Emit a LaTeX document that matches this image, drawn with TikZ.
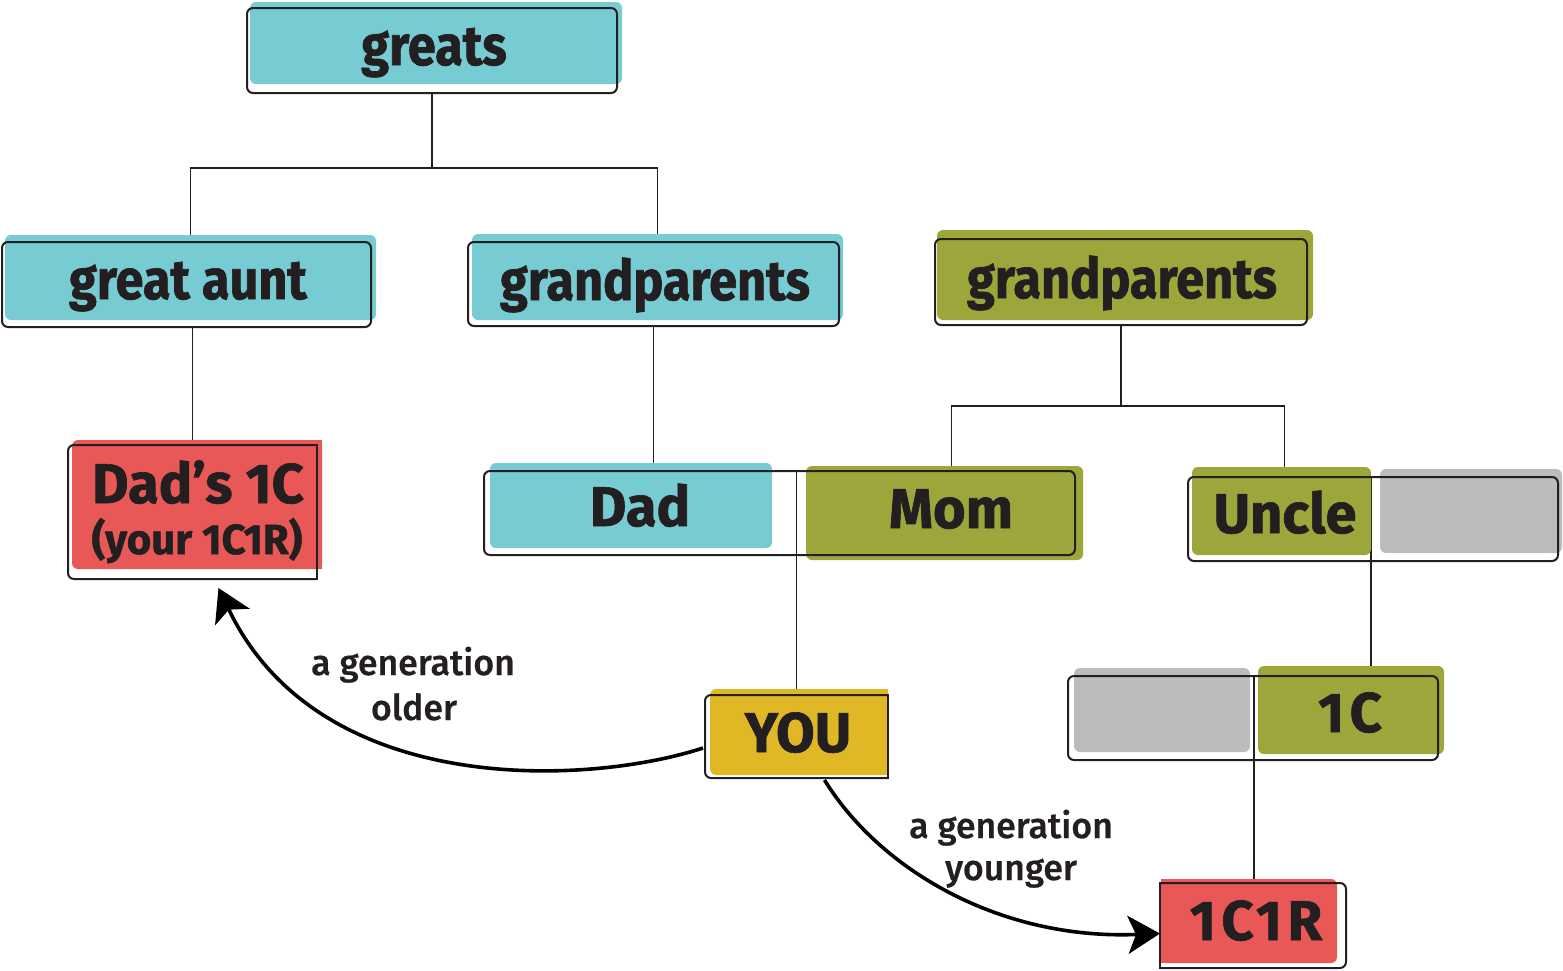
\documentclass[tikz,border=0pt]{standalone}
\usepackage{fontspec}
\setmainfont{Fira Sans}
\newfontfamily\lowfont{Fira Sans}[FakeStretch=0.9, FakeBold=1.2]
\newfontfamily\capfont{Fira Sans}[FakeStretch=1.0, FakeBold=1.2]
\newfontfamily\digfont{Fira Sans}[FakeStretch=1.0, FakeBold=1.2, LetterSpace=10]
\newfontfamily\labfont{Fira Sans}[UprightFont={* Medium}, FakeBold=0.6]
\usetikzlibrary{fit,calc,arrows.meta}
\pgfdeclarelayer{bg}
\pgfsetlayers{bg,main}
\definecolor{cblue}{HTML}{77CBD3}
\definecolor{cgreen}{HTML}{9CA63B}
\definecolor{cred}{HTML}{E85857}
\definecolor{cyel}{HTML}{E0B826}
\definecolor{cgrey}{HTML}{BBBCBE}
\definecolor{ink}{HTML}{231F20}
\tikzset{
  fb/.style={inner sep=0pt, outer sep=0pt, rounded corners=3pt, fill=#1, draw=none},
  ob/.style={inner sep=0pt, outer sep=0pt, rounded corners=3pt, draw=ink, line width=1pt},
  nm/.style={inner sep=0pt, outer sep=0pt, draw=none},
  oline/.style={draw=ink, line width=1pt},
  bt/.style={font=\lowfont\bfseries\fontsize{28}{30}\selectfont, text=ink, anchor=base, inner sep=0pt},
  btc/.style={font=\capfont\bfseries\fontsize{28}{30}\selectfont, text=ink, anchor=base, inner sep=0pt},
  btd/.style={font=\digfont\bfseries\fontsize{28}{30}\selectfont, text=ink, anchor=base, inner sep=0pt},
  bts/.style={font=\capfont\bfseries\fontsize{21}{24}\selectfont, text=ink, anchor=base, inner sep=0pt},
  lb/.style={font=\labfont\fontsize{17.8}{20}\selectfont, text=ink, anchor=base, inner sep=0pt},
  conn/.style={draw=ink, line width=0.9pt},
  arr/.style={draw=black, line width=1.8pt, -{Stealth[length=16pt,width=19pt,inset=4pt]}},
}
\begin{document}
\begin{tikzpicture}[x=0.5pt,y=-0.5pt]
\useasboundingbox (0,0) rectangle (1563,970);

% greats
\node[fb=cblue, fit={(250,2)(622,84)}] (gF) {};
\node[ob, fit={(247,8)(617,93)}] (gO) {};
\node[bt] (gT) at (434,65) {greats};

% great aunt
\node[fb=cblue, fit={(5,235)(376,320)}] (gaF) {};
\node[ob, fit={(2,242)(371,327)}] (gaO) {};
\node[bt] (gaT) at (188,299) {great aunt};

% grandparents (blue)
\node[fb=cblue, fit={(472,234)(843,320)}] (gpbF) {};
\node[ob, fit={(468,242)(839,326)}] (gpbO) {};
\node[bt] (gpbT) at (655,300) {grandparents};

% grandparents (green)
\node[fb=cgreen, fit={(937,230)(1313,320)}] (gpgF) {};
\node[ob, fit={(935,239)(1307,325)}] (gpgO) {};
\node[bt] (gpgT) at (1122,298) {grandparents};

% Dad's 1C
\node[nm, fit={(72,440)(322,569)}] (d1F) {};
\node[nm, fit={(68,445)(317,579)}] (d1O) {};
\fill[cred, rounded corners=3pt] (d1F.north west) rectangle (d1F.south east);
\fill[cred] (d1F.north) rectangle (d1F.south east);
\draw[oline] (d1O.north) -- (d1O.north east) -- (d1O.south east) -- (d1O.south);
\draw[oline, rounded corners=3pt] (d1O.south east) -| (d1O.north west) -- (d1O.north east);
\node[btc] (d1T) at (198,503) {Dad’s 1C};
\node[bts] (d1T2) at (197,554) {(your 1C1R)};

% Dad / Mom
\node[fb=cblue, fit={(490,463)(772,548)}] (dadF) {};
\node[fb=cgreen, fit={(806,466)(1083,560)}] (momF) {};
\node[ob, fit={(484,471)(1075,555)}] (dmO) {};
\node[btc] (dadT) at (640,526) {Dad};
\node[btc] (momT) at (951,528) {Mom};

% YOU
\node[nm, fit={(710,689)(888,775)}] (youF) {};
\node[nm, fit={(705,695)(888,778)}] (youO) {};
\fill[cyel, rounded corners=3pt] (youF.north west) rectangle (youF.south east);
\fill[cyel] (youF.north) rectangle (youF.south east);
\draw[oline] (youO.north) -- (youO.north east) -- (youO.south east) -- (youO.south);
\draw[oline, rounded corners=3pt] (youO.south east) -| (youO.north west) -- (youO.north east);
\node[btc] (youT) at (798,752) {YOU};

% Uncle row
\node[fb=cgreen, fit={(1192,467)(1371,555)}] (unF) {};
\node[fb=cgrey, fit={(1380,469)(1562,553)}] (g1F) {};
\node[ob, fit={(1188,477)(1558,561)}] (unO) {};
\node[btc] (unT) at (1285,533) {Uncle};

% 1C row
\node[fb=cgrey, fit={(1074,668)(1250,752)}] (g2F) {};
\node[fb=cgreen, fit={(1258,666)(1444,754)}] (cF) {};
\node[ob, fit={(1068,676)(1438,760)}] (cO) {};
\node[btd] (cT) at (1350,732) {1C};

% 1C1R
\node[nm, fit={(1161,879)(1337,963)}] (rF) {};
\node[nm, fit={(1160,883)(1346,968)}] (rO) {};
\fill[cred, rounded corners=3pt] (rF.north west) rectangle (rF.south east);
\fill[cred] (rF.north west) rectangle (rF.south);
\draw[oline] (rO.north) -- (rO.north west) -- (rO.south west) -- (rO.south);
\draw[oline, rounded corners=3pt] (rO.south west) -| (rO.north east) -- (rO.north west);
\node[btd] (rT) at (1256,940) {1C1R};

% connectors
\begin{pgfonlayer}{bg}
\draw[conn] (gO.south) -- ++(0,75) coordinate (j1);
\draw[conn] (gaF.north) |- (j1) -| (gpbF.north);
\draw[conn] (gaO.south -| d1O.north) -- (d1O.north);
\draw[conn] (gpbO.south) -- (gpbO.south |- dadF.north);
\draw[conn] (gpgO.south) -- ++(0,81) coordinate (j2);
\draw[conn] ([xshift=3.5pt]momF.north) |- (j2) -| ([xshift=1.5pt]unF.north);
\draw[conn] (dmO.north -| youO.north) -- (youO.north);
\draw[conn] (unO.north -| unF.east) -- (cF.north -| unF.east);
\coordinate (dv) at ($(g2F.east)!0.5!(cF.west)$);
\draw[conn] (cO.north -| dv) -- (rF.north -| dv);
\end{pgfonlayer}

% generation arrows
\draw[arr] ($(youO.south west)+(-2,-30)$) .. controls (590,785) and (320,800) .. ($(d1O.south)+(26,9)$);
\draw[arr] ($(youO.south)+(28,2)$) .. controls (880,870) and (1000,940) .. ($(rO.west)+(0,8)$);

\node[lb] (l1a) at (413,675) {a generation};
\node[lb] (l1b) at (414,720) {older};
\node[lb] (l2a) at (1011,838) {a generation};
\node[lb] (l2b) at (1011,880) {younger};
\end{tikzpicture}
\end{document}
